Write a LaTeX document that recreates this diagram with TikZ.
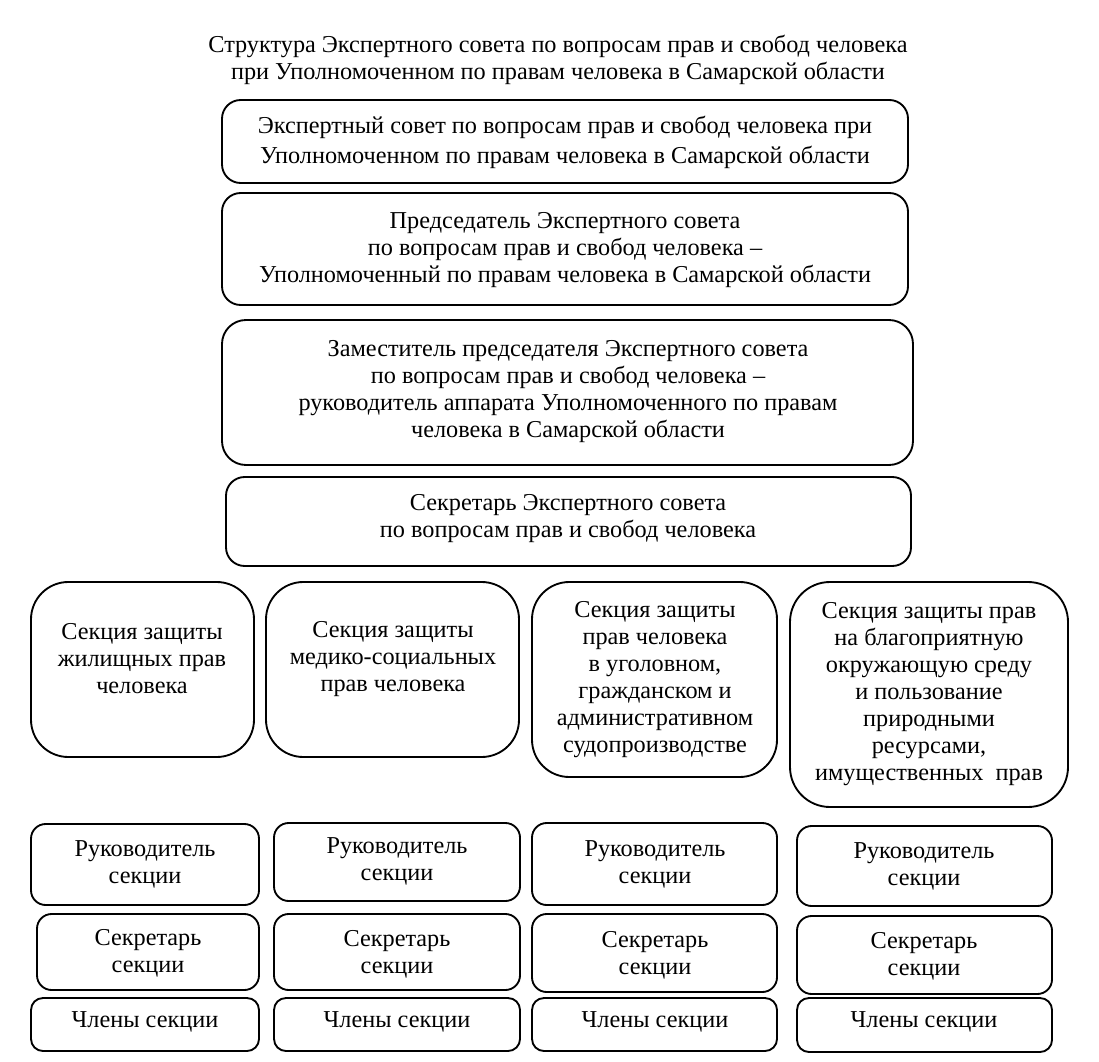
\documentclass[tikz,border=0pt]{standalone}
\usepackage{fontspec}
\setmainfont{Liberation Serif}
\usetikzlibrary{fit}
\tikzset{
  box/.style={draw, line width=1.4pt, rounded corners=#1, inner sep=0pt},
  box/.default=14pt,
  txt/.style={align=center, inner sep=0pt, font=\fontsize{18.2}{20.25}\selectfont},
  txtA/.style={align=center, inner sep=0pt, font=\fontsize{18.2}{22.5}\selectfont}
}
\begin{document}
\begin{tikzpicture}[x=0.75pt,y=-0.75pt]
\useasboundingbox (0,0) rectangle (1099,1062);
\node[txt] (title) at (558,60) {Структура Экспертного совета по вопросам прав и свобод человека\\при Уполномоченном по правам человека в Самарской области};
% top boxes
\node[box=14pt, fit={(222,100) (908,183)}] (A) {};
\node[txtA] (At) at (565,142) {Экспертный совет по вопросам прав и свобод человека при\\Уполномоченном по правам человека в Самарской области};
\node[box=14pt, fit={(222,193) (908,305)}] (B) {};
\node[txt] (Bt) at (565,250) {Председатель Экспертного совета\\по вопросам прав и свобод человека –\\Уполномоченный по правам человека в Самарской области};
\node[box=18pt, fit={(222,320) (913,465)}] (C) {};
\node[txt] (Ct) at (568,392) {Заместитель председателя Экспертного совета\\по вопросам прав и свобод человека –\\руководитель аппарата Уполномоченного по правам\\человека в Самарской области};
\node[box=14pt, fit={(226,477) (911,566)}] (D) {};
\node[txt] (Dt) at (568,519) {Секретарь Экспертного совета\\по вопросам прав и свобод человека};
% sections
\node[box=28pt, fit={(31,582) (254,757)}] (S1) {};
\node[txt] (S1t) at (142,659) {Секция защиты\\жилищных прав\\человека};
\node[box=28pt, fit={(266,582) (519,757)}] (S2) {};
\node[txt] (S2t) at (393,659) {Секция защиты\\медико-социальных\\прав человека};
\node[box=28pt, fit={(532,582) (777,777)}] (S3) {};
\node[txt] (S3t) at (655,680) {Секция защиты\\прав человека\\в уголовном,\\гражданском и\\административном\\судопроизводстве};
\node[box=30pt, fit={(790,582) (1068,807)}] (S4) {};
\node[txt] (S4t) at (929,694) {Секция защиты прав\\на благоприятную\\окружающую среду\\и пользование\\природными\\ресурсами,\\имущественных\ \ прав};
% heads
\node[box=11pt, fit={(31,824) (259,905)}] (R1) {};
\node[txt] (R1t) at (145,864) {Руководитель\\секции};
\node[box=11pt, fit={(274,823) (520,901)}] (R2) {};
\node[txt] (R2t) at (397,861) {Руководитель\\секции};
\node[box=11pt, fit={(532,823) (777,905)}] (R3) {};
\node[txt] (R3t) at (655,864) {Руководитель\\секции};
\node[box=11pt, fit={(797,826) (1052,906)}] (R4) {};
\node[txt] (R4t) at (924,866) {Руководитель\\секции};
% secretaries
\node[box=11pt, fit={(37,914) (259,990)}] (K1) {};
\node[txt] (K1t) at (148,953) {Секретарь\\секции};
\node[box=11pt, fit={(274,914) (520,990)}] (K2) {};
\node[txt] (K2t) at (397,954) {Секретарь\\секции};
\node[box=11pt, fit={(532,914) (777,992)}] (K3) {};
\node[txt] (K3t) at (655,955) {Секретарь\\секции};
\node[box=11pt, fit={(797,916) (1052,994)}] (K4) {};
\node[txt] (K4t) at (924,956) {Секретарь\\секции};
% members
\node[box=9pt, fit={(31,998) (259,1051)}] (M1) {};
\node[txt] (M1t) at (145,1022) {Члены секции};
\node[box=9pt, fit={(274,998) (520,1051)}] (M2) {};
\node[txt] (M2t) at (397,1022) {Члены секции};
\node[box=9pt, fit={(532,998) (777,1051)}] (M3) {};
\node[txt] (M3t) at (655,1022) {Члены секции};
\node[box=9pt, fit={(797,998) (1052,1052)}] (M4) {};
\node[txt] (M4t) at (924,1022) {Члены секции};
\end{tikzpicture}
\end{document}
